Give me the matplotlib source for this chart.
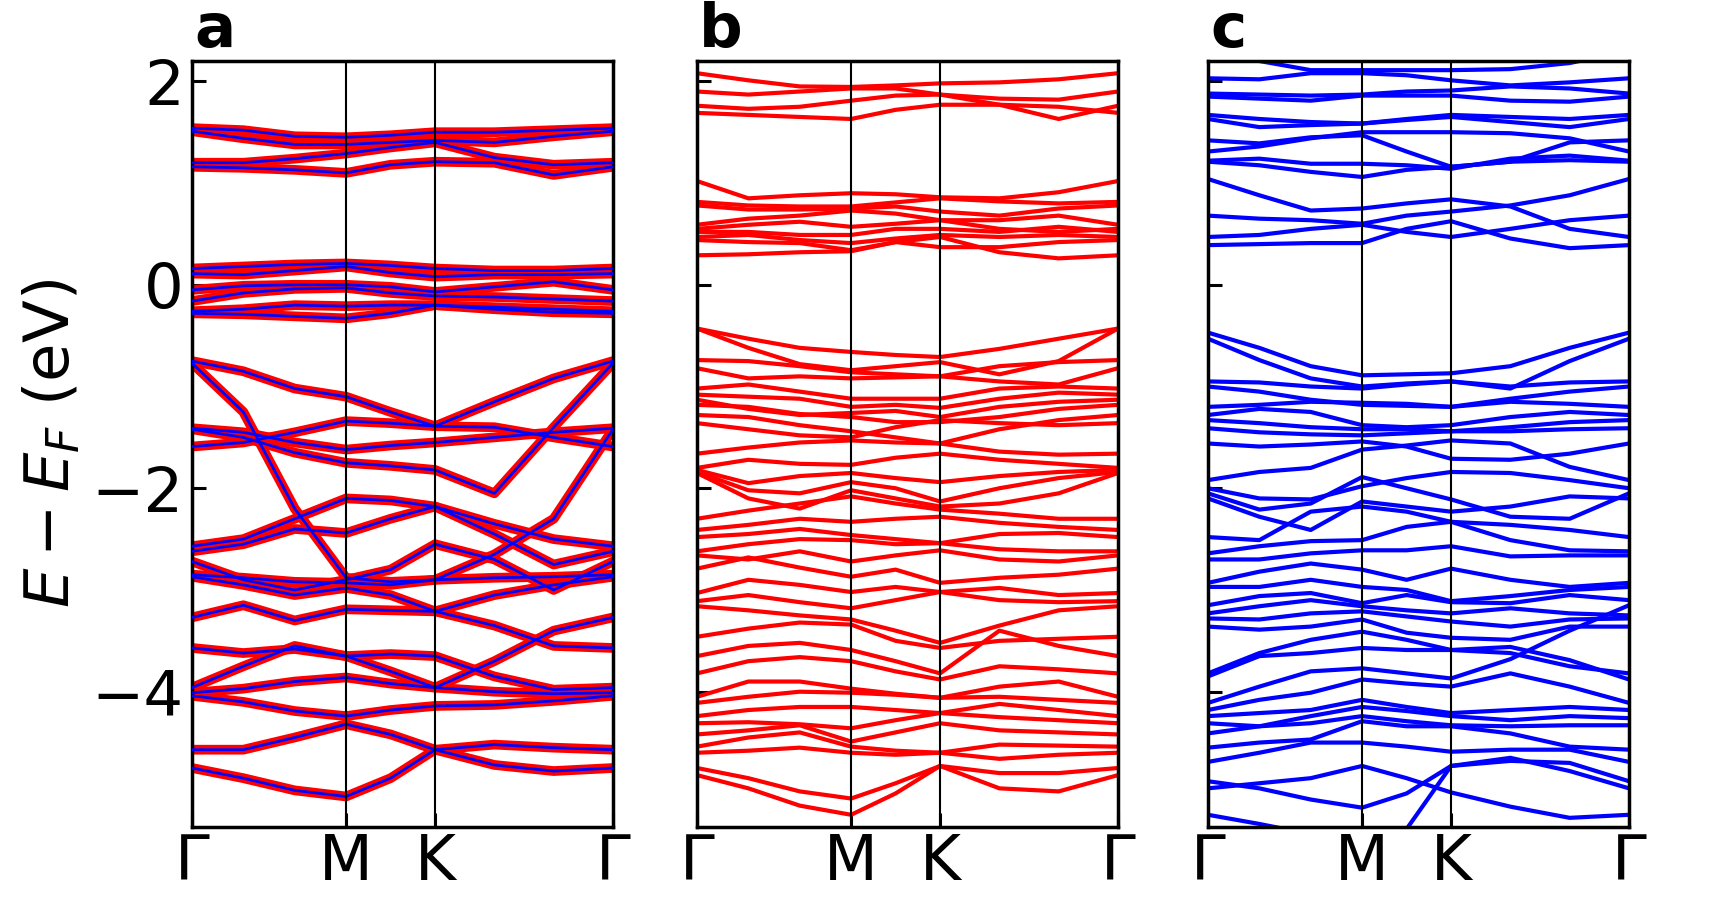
import numpy as np
import matplotlib
matplotlib.use("Agg")
import matplotlib.pyplot as plt

# high-symmetry path Γ-M-K-Γ of the hexagonal zone (segment lengths in units of 2π/a)
K_LABELS = ["Γ", "M", "K", "Γ"]
SEG_LEN = [1 / np.sqrt(3), 1 / 3, 2 / 3]
# where each band was read along each segment (fraction of the segment)
SEG_SAMPLES = [[0, 1 / 3, 2 / 3], [0, 1 / 2], [0, 1 / 3, 2 / 3, 1]]

# ---- panel a: conduction + valence bands (eV) read at the sample points ----
BANDS_A_COND = [
    [1.54, 1.52, 1.46, 1.45, 1.47, 1.50, 1.50, 1.52, 1.54],
    [1.51, 1.44, 1.38, 1.38, 1.40, 1.42, 1.40, 1.46, 1.51],
    [1.20, 1.20, 1.24, 1.29, 1.35, 1.40, 1.25, 1.18, 1.20],
    [1.16, 1.15, 1.13, 1.10, 1.18, 1.21, 1.20, 1.08, 1.16],
    [0.16, 0.18, 0.20, 0.21, 0.19, 0.16, 0.14, 0.14, 0.16],
    [0.11, 0.10, 0.14, 0.18, 0.12, 0.08, 0.10, 0.10, 0.11],
    [-0.05, -0.01, 0.00, 0.00, -0.02, -0.07, -0.02, 0.03, -0.05],
    [-0.16, -0.08, -0.04, -0.03, -0.08, -0.11, -0.12, -0.14, -0.16],
    [-0.26, -0.24, -0.20, -0.21, -0.20, -0.20, -0.22, -0.24, -0.26],
    [-0.28, -0.29, -0.31, -0.33, -0.28, -0.20, -0.24, -0.27, -0.28],
]
BANDS_A_VAL = [
    [-0.75, -0.85, -1.02, -1.10, -1.25, -1.39, -1.15, -0.92, -0.75],
    [-0.77, -1.25, -2.20, -2.88, -2.92, -2.90, -2.65, -2.30, -1.42],
    [-1.41, -1.45, -1.55, -1.62, -1.58, -1.55, -1.50, -1.45, -1.41],
    [-1.42, -1.50, -1.65, -1.75, -1.78, -1.82, -2.05, -1.40, -0.77],
    [-1.59, -1.55, -1.45, -1.34, -1.36, -1.39, -1.40, -1.50, -1.59],
    [-2.57, -2.50, -2.30, -2.10, -2.12, -2.18, -2.35, -2.50, -2.57],
    [-2.62, -2.55, -2.40, -2.44, -2.30, -2.18, -2.45, -2.75, -2.62],
    [-2.72, -2.90, -3.00, -2.90, -2.80, -2.55, -2.70, -3.00, -2.72],
    [-2.85, -2.88, -2.92, -2.93, -2.95, -2.90, -2.88, -2.87, -2.85],
    [-2.87, -2.95, -3.05, -2.98, -3.05, -3.21, -3.05, -2.95, -2.87],
    [-3.27, -3.15, -3.30, -3.19, -3.20, -3.21, -3.35, -3.55, -3.57],
    [-3.57, -3.62, -3.58, -3.65, -3.63, -3.65, -3.85, -3.98, -3.96],
    [-3.96, -3.75, -3.55, -3.65, -3.80, -3.96, -3.70, -3.40, -3.27],
    [-4.01, -3.97, -3.90, -3.86, -3.92, -3.96, -4.00, -4.02, -4.01],
    [-4.04, -4.10, -4.19, -4.24, -4.18, -4.14, -4.13, -4.09, -4.04],
    [-4.57, -4.57, -4.45, -4.32, -4.42, -4.57, -4.72, -4.78, -4.75],
    [-4.75, -4.85, -4.97, -5.03, -4.85, -4.57, -4.52, -4.55, -4.57],
]

# ---- panel b ----
BANDS_B_COND = [
    [2.08, 2.01, 1.95, 1.945, 1.96, 1.98, 1.99, 2.02, 2.08],
    [1.90, 1.87, 1.90, 1.93, 1.93, 1.87, 1.83, 1.82, 1.90],
    [1.76, 1.73, 1.75, 1.81, 1.86, 1.87, 1.77, 1.63, 1.76],
    [1.69, 1.67, 1.65, 1.63, 1.72, 1.77, 1.77, 1.75, 1.69],
    [1.02, 0.85, 0.88, 0.90, 0.89, 0.86, 0.85, 0.91, 1.02],
    [0.815, 0.78, 0.77, 0.77, 0.81, 0.85, 0.82, 0.80, 0.815],
    [0.78, 0.74, 0.74, 0.75, 0.77, 0.72, 0.68, 0.75, 0.78],
    [0.59, 0.65, 0.68, 0.73, 0.70, 0.635, 0.635, 0.68, 0.59],
    [0.55, 0.59, 0.62, 0.57, 0.60, 0.635, 0.55, 0.52, 0.55],
    [0.52, 0.52, 0.49, 0.49, 0.55, 0.55, 0.52, 0.57, 0.52],
    [0.47, 0.49, 0.44, 0.41, 0.455, 0.49, 0.47, 0.49, 0.47],
    [0.44, 0.42, 0.41, 0.34, 0.42, 0.37, 0.37, 0.42, 0.44],
    [0.29, 0.30, 0.32, 0.33, 0.42, 0.47, 0.32, 0.26, 0.29],
]
BANDS_B_VAL = [
    [-0.43, -0.53, -0.62, -0.66, -0.69, -0.71, -0.63, -0.53, -0.43],
    [-0.43, -0.62, -0.78, -0.84, -0.80, -0.76, -0.88, -0.75, -0.43],
    [-0.74, -0.75, -0.80, -0.86, -0.88, -0.90, -0.80, -0.76, -0.74],
    [-0.82, -0.92, -0.90, -0.92, -0.91, -0.90, -0.95, -0.98, -0.82],
    [-1.02, -0.98, -1.05, -1.12, -1.12, -1.12, -1.02, -1.00, -1.02],
    [-1.08, -1.10, -1.12, -1.20, -1.18, -1.21, -1.12, -1.06, -1.08],
    [-1.13, -1.22, -1.28, -1.26, -1.24, -1.30, -1.20, -1.15, -1.13],
    [-1.18, -1.20, -1.27, -1.30, -1.35, -1.35, -1.30, -1.22, -1.18],
    [-1.28, -1.30, -1.38, -1.44, -1.50, -1.56, -1.42, -1.33, -1.28],
    [-1.36, -1.42, -1.48, -1.50, -1.40, -1.33, -1.36, -1.38, -1.36],
    [-1.66, -1.60, -1.55, -1.53, -1.55, -1.56, -1.64, -1.67, -1.66],
    [-1.80, -1.72, -1.76, -1.77, -1.70, -1.66, -1.72, -1.76, -1.80],
    [-1.82, -1.95, -1.88, -1.85, -1.90, -1.94, -1.88, -1.84, -1.82],
    [-1.84, -2.02, -2.05, -1.94, -2.00, -2.13, -2.00, -1.90, -1.84],
    [-1.85, -2.10, -2.20, -2.02, -2.10, -2.18, -2.15, -2.05, -1.85],
    [-2.30, -2.22, -2.15, -2.08, -2.15, -2.21, -2.25, -2.30, -2.30],
    [-2.41, -2.36, -2.30, -2.33, -2.30, -2.28, -2.34, -2.38, -2.41],
    [-2.48, -2.45, -2.40, -2.46, -2.50, -2.54, -2.45, -2.44, -2.48],
    [-2.62, -2.55, -2.50, -2.51, -2.55, -2.54, -2.60, -2.62, -2.62],
    [-2.66, -2.70, -2.62, -2.72, -2.66, -2.61, -2.70, -2.72, -2.66],
    [-2.79, -2.68, -2.78, -2.87, -2.80, -2.93, -2.88, -2.85, -2.79],
    [-3.03, -2.90, -2.95, -3.02, -2.97, -3.02, -2.98, -3.05, -3.03],
    [-3.11, -3.05, -3.12, -3.18, -3.10, -3.02, -3.10, -3.12, -3.11],
    [-3.16, -3.20, -3.25, -3.29, -3.40, -3.52, -3.35, -3.20, -3.16],
    [-3.46, -3.38, -3.32, -3.34, -3.50, -3.57, -3.50, -3.48, -3.46],
    [-3.65, -3.55, -3.52, -3.59, -3.70, -3.82, -3.40, -3.55, -3.65],
    [-3.82, -3.70, -3.66, -3.70, -3.80, -3.88, -3.75, -3.78, -3.82],
    [-4.05, -3.90, -3.90, -3.97, -4.02, -4.06, -3.95, -3.90, -4.05],
    [-4.11, -4.05, -4.00, -4.01, -4.03, -4.06, -4.05, -4.08, -4.11],
    [-4.24, -4.18, -4.15, -4.15, -4.18, -4.21, -4.12, -4.18, -4.24],
    [-4.31, -4.30, -4.32, -4.36, -4.28, -4.21, -4.25, -4.28, -4.31],
    [-4.42, -4.38, -4.33, -4.49, -4.40, -4.31, -4.38, -4.40, -4.42],
    [-4.54, -4.45, -4.40, -4.54, -4.58, -4.60, -4.52, -4.53, -4.54],
    [-4.60, -4.58, -4.55, -4.60, -4.62, -4.60, -4.66, -4.62, -4.60],
    [-4.75, -4.85, -4.98, -5.05, -4.90, -4.73, -4.80, -4.80, -4.75],
    [-4.82, -4.95, -5.12, -5.21, -5.00, -4.73, -4.95, -4.98, -4.82],
]

# ---- panel c ----
BANDS_C_COND = [
    [2.30, 2.20, 2.11, 2.11, 2.11, 2.11, 2.12, 2.18, 2.30],
    [2.03, 2.02, 2.08, 2.08, 2.06, 2.01, 1.96, 1.99, 2.03],
    [1.88, 1.87, 1.86, 1.87, 1.90, 1.91, 1.95, 1.93, 1.88],
    [1.85, 1.83, 1.81, 1.86, 1.86, 1.86, 1.81, 1.80, 1.85],
    [1.67, 1.63, 1.60, 1.585, 1.63, 1.67, 1.65, 1.63, 1.67],
    [1.63, 1.55, 1.57, 1.585, 1.62, 1.65, 1.60, 1.55, 1.63],
    [1.42, 1.39, 1.45, 1.47, 1.31, 1.16, 1.21, 1.40, 1.42],
    [1.31, 1.36, 1.44, 1.50, 1.50, 1.50, 1.49, 1.44, 1.31],
    [1.22, 1.24, 1.19, 1.19, 1.175, 1.14, 1.24, 1.27, 1.22],
    [1.21, 1.175, 1.11, 1.06, 1.13, 1.16, 1.21, 1.225, 1.21],
    [1.04, 0.88, 0.73, 0.75, 0.80, 0.84, 0.77, 0.55, 0.47],
    [0.68, 0.65, 0.635, 0.60, 0.68, 0.72, 0.78, 0.88, 1.04],
    [0.47, 0.49, 0.55, 0.59, 0.52, 0.47, 0.55, 0.635, 0.68],
    [0.39, 0.40, 0.41, 0.41, 0.55, 0.625, 0.455, 0.36, 0.39],
]
BANDS_C_VAL = [
    [-0.47, -0.62, -0.80, -0.89, -0.88, -0.87, -0.80, -0.62, -0.47],
    [-0.53, -0.74, -0.92, -1.00, -0.97, -0.95, -1.02, -0.75, -0.53],
    [-0.95, -0.96, -1.00, -1.02, -0.98, -0.95, -1.00, -0.96, -0.95],
    [-1.00, -1.05, -1.13, -1.18, -1.19, -1.20, -1.12, -1.05, -1.00],
    [-1.20, -1.18, -1.15, -1.16, -1.17, -1.20, -1.15, -1.17, -1.20],
    [-1.28, -1.22, -1.25, -1.38, -1.40, -1.38, -1.30, -1.25, -1.28],
    [-1.33, -1.36, -1.40, -1.42, -1.42, -1.44, -1.40, -1.35, -1.33],
    [-1.41, -1.45, -1.47, -1.48, -1.46, -1.44, -1.44, -1.42, -1.41],
    [-1.56, -1.59, -1.57, -1.54, -1.59, -1.71, -1.72, -1.66, -1.56],
    [-1.92, -1.84, -1.80, -1.62, -1.58, -1.53, -1.56, -1.79, -1.92],
    [-2.00, -2.10, -2.11, -1.98, -1.90, -1.84, -1.85, -1.92, -2.00],
    [-2.05, -2.21, -2.15, -1.89, -2.00, -2.11, -2.28, -2.30, -2.05],
    [-2.10, -2.28, -2.41, -2.13, -2.18, -2.23, -2.18, -2.08, -2.10],
    [-2.48, -2.51, -2.23, -2.18, -2.23, -2.33, -2.36, -2.41, -2.48],
    [-2.64, -2.57, -2.52, -2.51, -2.38, -2.33, -2.51, -2.61, -2.62],
    [-2.70, -2.70, -2.64, -2.61, -2.61, -2.57, -2.67, -2.66, -2.66],
    [-2.93, -2.82, -2.74, -2.80, -2.90, -2.79, -2.90, -2.97, -2.93],
    [-2.97, -2.97, -2.90, -2.97, -3.00, -3.11, -3.06, -3.00, -2.97],
    [-3.15, -3.06, -3.03, -3.13, -3.05, -3.12, -3.13, -3.05, -3.10],
    [-3.23, -3.16, -3.10, -3.16, -3.20, -3.23, -3.18, -3.23, -3.25],
    [-3.28, -3.29, -3.23, -3.21, -3.26, -3.31, -3.36, -3.29, -3.28],
    [-3.36, -3.39, -3.36, -3.29, -3.42, -3.47, -3.49, -3.36, -3.36],
    [-3.82, -3.62, -3.49, -3.41, -3.49, -3.59, -3.62, -3.75, -3.82],
    [-3.85, -3.65, -3.62, -3.57, -3.59, -3.59, -3.56, -3.69, -3.88],
    [-4.11, -3.95, -3.80, -3.77, -3.82, -3.87, -3.68, -3.40, -3.15],
    [-4.18, -4.08, -4.01, -3.88, -3.92, -3.95, -3.82, -3.95, -4.11],
    [-4.24, -4.21, -4.18, -4.08, -4.15, -4.21, -4.18, -4.15, -4.18],
    [-4.31, -4.34, -4.24, -4.15, -4.19, -4.24, -4.28, -4.24, -4.26],
    [-4.41, -4.34, -4.31, -4.24, -4.29, -4.33, -4.34, -4.33, -4.33],
    [-4.55, -4.50, -4.47, -4.29, -4.34, -4.34, -4.41, -4.54, -4.57],
    [-4.69, -4.60, -4.50, -4.50, -4.54, -4.59, -4.57, -4.57, -4.69],
    [-4.88, -4.95, -5.06, -5.14, -5.00, -4.73, -4.68, -4.70, -4.88],
    [-4.95, -4.90, -4.85, -4.73, -4.85, -4.99, -5.13, -5.24, -5.21],
    [-5.21, -5.30, -5.40, -5.50, -5.35, -4.73, -4.65, -4.78, -4.95],
]

PANEL_LETTERS = ["a", "b", "c"]
Y_TICKS = [-4, -2, 0, 2]
Y_LIM = (-5.33, 2.2)

RED = "#ff0000"
BLUE = "#0000ff"

# k-coordinates of the sample points along the path
nodes = np.concatenate([[0.0], np.cumsum(SEG_LEN)])
kx = np.array([nodes[i] + f * SEG_LEN[i] for i, fr in enumerate(SEG_SAMPLES) for f in fr])

plt.rcParams["font.family"] = ["DejaVu Sans"]
plt.rcParams["mathtext.fontset"] = "dejavusans"

fig = plt.figure(figsize=(17.25, 9.08), dpi=100)
lefts = [192 / 1725, 697 / 1725, 1208 / 1725]
bottom, width, height = 81 / 908, 421 / 1725, 766 / 908
axes = [fig.add_axes([l, bottom, width, height]) for l in lefts]


def style(ax, letter, show_ylabels):
    ax.set_xlim(nodes[0], nodes[-1])
    ax.set_ylim(*Y_LIM)
    for x in nodes[1:-1]:
        ax.axvline(x, color="black", lw=1.5, zorder=4)
    ax.set_xticks(nodes)
    ax.set_xticklabels(K_LABELS)
    ax.set_yticks(Y_TICKS)
    if not show_ylabels:
        ax.set_yticklabels([])
    ax.tick_params(axis="both", direction="in", length=10, width=2.2,
                   labelsize=45, pad=6)
    ax.tick_params(axis="x", pad=4)
    ax.tick_params(right=False, top=False)
    for sp in ax.spines.values():
        sp.set_linewidth(2.5)
    ax.text(0.005, 1.018, letter, transform=ax.transAxes, fontsize=44,
            fontweight="bold", va="baseline", ha="left")


# a: two calculations overlaid (thick red, thin blue)
ax = axes[0]
for band in BANDS_A_COND + BANDS_A_VAL:
    ax.plot(kx, band, color=RED, lw=7, solid_joinstyle="round",
            solid_capstyle="round", zorder=2)
for band in BANDS_A_COND + BANDS_A_VAL:
    ax.plot(kx, band, color=BLUE, lw=2, solid_joinstyle="round", zorder=3)
style(ax, PANEL_LETTERS[0], True)
ax.set_ylabel("$E-E_F$ (eV)", fontsize=45, labelpad=6)

ax = axes[1]
for band in BANDS_B_COND + BANDS_B_VAL:
    ax.plot(kx, band, color=RED, lw=3, solid_joinstyle="round", zorder=2)
style(ax, PANEL_LETTERS[1], False)

ax = axes[2]
for band in BANDS_C_COND + BANDS_C_VAL:
    ax.plot(kx, band, color=BLUE, lw=3, solid_joinstyle="round", zorder=2)
style(ax, PANEL_LETTERS[2], False)

fig.savefig("out.png", dpi=100)
